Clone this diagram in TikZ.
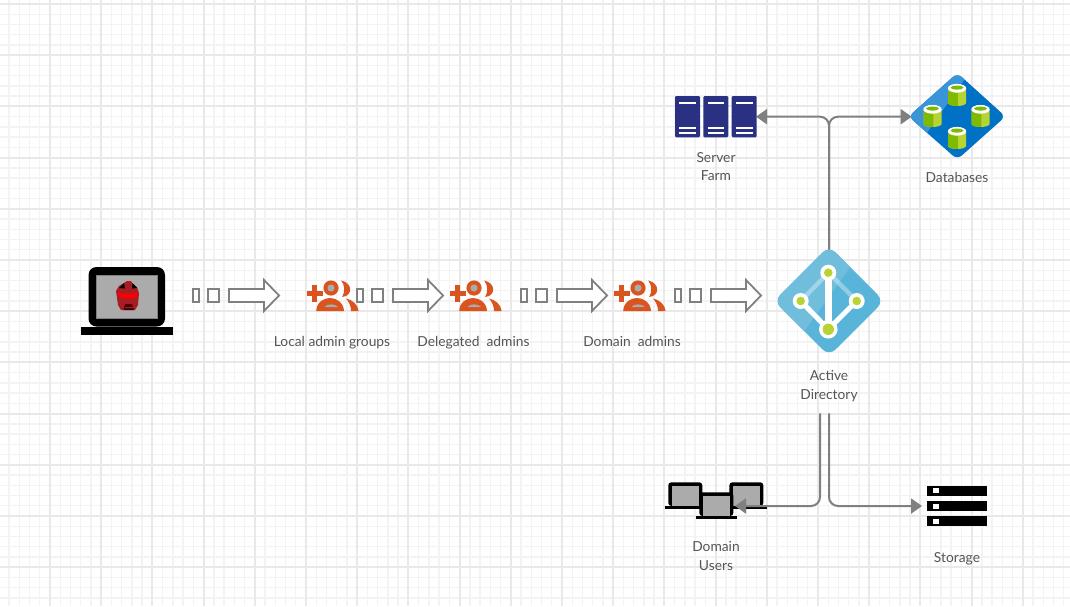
\documentclass[tikz,border=0pt]{standalone}
\usepackage{fontspec}
\setmainfont{Lato}
\usetikzlibrary{arrows.meta,calc}
\definecolor{gmaj}{HTML}{E9E9E9}
\definecolor{gmin}{HTML}{F3F3F3}
\definecolor{ln}{HTML}{808080}
\definecolor{txt}{HTML}{555555}
\definecolor{org}{HTML}{D9541E}
\definecolor{navy}{HTML}{2A3182}
\definecolor{dbd}{HTML}{0072C6}
\definecolor{dbl}{HTML}{3A95D8}
\definecolor{cg}{HTML}{7FB900}
\definecolor{cl}{HTML}{B8D432}
\definecolor{adl}{HTML}{70BDDC}
\definecolor{add}{HTML}{59B4D9}
\definecolor{scr}{HTML}{ABABAB}
\definecolor{rd}{HTML}{A81C24}
\tikzset{x=1pt,y=-1pt,
 lbl/.style={text=txt,font=\fontsize{13.8}{18.8}\selectfont,align=center,inner sep=0pt},
 conn/.style={draw=ln,line width=2pt,rounded corners=9pt,-{Triangle[length=11pt,width=15pt]}},
 hollow/.style={draw=ln,line width=1.8pt,fill=white,line join=miter},
 anchorbox/.style={minimum width=#1,inner sep=0pt,outer sep=0pt},
 flow/.pic={
  \draw[hollow] (0,-6.5) rectangle (6,6.5);
  \draw[hollow] (15,-6.5) rectangle (26,6.5);
  \draw[hollow] (36,-6.5) -- (71,-6.5) -- (71,-15.5) -- (86,0) -- (71,15.5) -- (71,6.5) -- (36,6.5) -- cycle;
 },
 usr/.pic={
  \fill[org] (0.7,-2.5) rectangle (16.7,2.5);
  \fill[org] (6.2,-8.5) rectangle (11.2,8.5);
  \fill[org] (25,-5) circle (7.6);
  \fill[scr] (25,-5) circle (3.6);
  \fill[org] (10.2,18) .. controls (10.5,9) and (18,5) .. (24,5) .. controls (30,5) and (37.5,9) .. (38,18) -- cycle;
  \fill[scr] (18.5,14) .. controls (21,10.5) and (29,10.5) .. (32,14) -- cycle;
  \fill[org] (35.2,-12.5) .. controls (47,-10) and (47,3) .. (36.2,4) .. controls (39,-1) and (39,-8) .. (35.2,-12.5) -- cycle;
  \fill[org] (40,5.5) .. controls (46,6.5) and (52.5,12) .. (52.5,18) -- (45,18) .. controls (45,13) and (43,9) .. (40,5.5) -- cycle;
 },
 lap/.pic={
  \fill[black,rounded corners=3pt] (0,0) rectangle (34,23.6);
  \fill[scr] (3.3,3.3) rectangle (30.7,23.6);
  \fill[black] (-3.3,23.4) rectangle (37.7,26.8);
 },
 cyl/.pic={
  \fill[cl] (-9,0) -- (-9,14.7) arc[start angle=180,end angle=0,x radius=9,y radius=3] -- (9,0) -- cycle;
  \fill[cg] (-9,0) -- (-9,14.7) arc[start angle=180,end angle=85,x radius=9,y radius=3] -- (0.8,0) -- cycle;
  \fill[white] (0,0) ellipse (9.2 and 4.4);
  \fill[cg] (0,-0.7) ellipse (6.5 and 2);
 }
}
\begin{document}
\begin{tikzpicture}
\useasboundingbox (0,0) rectangle (1070,606);
\fill[white] (0,0) rectangle (1070,606);
% grid
\foreach \i in {0,...,105}{
 \pgfmathsetmacro\gx{-1.2+10.24*\i}
 \draw[gmin,line width=1.4pt] (\gx,0) -- (\gx,606);
}
\foreach \i in {0,...,60}{
 \pgfmathsetmacro\gy{4+10.24*\i-10.24}
 \draw[gmin,line width=1.4pt] (0,\gy) -- (1070,\gy);
}
\foreach \i in {0,...,21}{
 \pgfmathsetmacro\gx{-1.2+51.2*\i}
 \draw[gmaj,line width=2pt] (\gx,0) -- (\gx,606);
}
\foreach \i in {0,...,12}{
 \pgfmathsetmacro\gy{4+51.2*\i}
 \draw[gmaj,line width=2pt] (0,\gy) -- (1070,\gy);
}
% named icon anchors
\node[anchorbox=92pt,minimum height=66pt] (laptop) at (127,301) {};
\node[anchorbox=80pt,minimum height=41pt] (farm) at (716,116.7) {};
\node[anchorbox=90.6pt,minimum height=82pt] (db) at (957,116.7) {};
\node[anchorbox=102pt,minimum height=102pt] (ad) at (829,301) {};
\node[anchorbox=38pt,minimum height=42pt] (users) at (716,506) {};
\node[anchorbox=70pt,minimum height=42pt] (stor) at (957,506) {};
% labels
\node[lbl] (l1) at (332,343) {Local admin groups};
\node[lbl] (l2) at (473.5,343) {Delegated\ \ admins};
\node[lbl] (l3) at (632,341.5) {Domain\ \ admins};
\node[lbl] (lf) at (716,166.5) {Server\\Farm};
\node[lbl] (ld) at (957,177) {Databases};
\node[lbl,minimum width=60pt] (lad) at (829,386.5) {Active\\Directory};
\node[lbl] (lu) at (716,556) {Domain\\Users};
\node[lbl] (ls) at (957,559) {Storage};
% connectors
\coordinate (bl) at ($(lad.south)+(-9,11)$);
\coordinate (br) at ($(lad.south)+(0,11)$);
\draw[conn] (ad.north) |- (farm.east);
\draw[conn] (ad.north) |- (db.west);
\draw[conn] (br) |- (stor.west);
% flow arrows
\foreach \p in {193,357,521,675} \pic at (\p,295.5) {flow};
\foreach \p in {306,449,613} \pic at (\p,293) {usr};
% laptop
\fill[black,rounded corners=8pt] (88.5,267) rectangle (165,326.5);
\fill[scr] (96,275.5) rectangle (157.5,318);
\draw[ln,line width=.5pt] (96,275.5) rectangle (157.5,318);
\fill[black] (81,326.5) rectangle (173,335);
% robot head
\fill[rd] (116,291) -- (119,286) -- (124,283) -- (127,281) -- (131,281) -- (133,284) -- (137,287) -- (139,293) -- (138,305) -- (135,310) -- (121,310) -- (118,305) -- cycle;
\fill[black] (119,288) -- (124,283) -- (125,288.5) -- cycle;
\fill[black] (137,288) -- (132.5,283) -- (132,288.5) -- cycle;
\fill[red] (117.5,292) .. controls (124,295) and (131,295) .. (138,292) -- (136.5,297) .. controls (131,299) and (124,299) .. (120,297) -- cycle;
\fill[black!70!red] (125,304) -- (132,304) -- (134,310) -- (123.5,310) -- cycle;
\draw[rd,line width=.7pt] (125,307) -- (132.5,307);
% server farm
\foreach \sx in {675,703.3,731.7}{
 \fill[navy,rounded corners=1.2pt] (\sx,96) rectangle ++(25,41.3);
 \fill[white] (\sx+4.3,102.3) rectangle ++(16.5,2);
 \fill[white] (\sx+4.3,126.7) rectangle ++(16.5,2);
 \fill[white] (\sx+4.3,131.7) rectangle ++(16.5,2);
}
% database
\fill[dbd,rounded corners=6pt] (957.3,73) -- (1005.5,116.5) -- (957.3,159.5) -- (908.5,116.5) -- cycle;
\begin{scope}
\clip[rounded corners=6pt] (957.3,73) -- (1005.5,116.5) -- (957.3,159.5) -- (908.5,116.5) -- cycle;
\fill[dbl] (905,60) -- (978,60) -- (915,150) -- (905,150) -- cycle;
\end{scope}
\pic at (957,88.3) {cyl};
\pic at (932.5,109.3) {cyl};
\pic at (980.5,109.3) {cyl};
\pic at (957,131.3) {cyl};
% active directory
\fill[add,rounded corners=9pt] (829,246) -- (884,301) -- (829,356) -- (774,301) -- cycle;
\begin{scope}
\clip[rounded corners=9pt] (829,246) -- (884,301) -- (829,356) -- (774,301) -- cycle;
\fill[adl] (829,240) -- (853,263) -- (798,340) -- (765,301) -- cycle;
\end{scope}
\draw[white,opacity=.35,line width=4.5pt] (828.5,272.7) -- (800.7,301) (828.5,272.7) -- (856.7,301);
\draw[white,line width=5pt] (800.7,301) -- (828.3,329.3) -- (856.7,301);
\draw[white,line width=6.5pt] (828.3,272.7) -- (828.3,329.3);
\fill[white] (828.3,272.7) circle (8);
\fill[cl] (828.3,272.7) circle (4.3);
\fill[white] (800.7,301) circle (8);
\fill[cl] (800.7,301) circle (4.3);
\fill[white] (856.7,301) circle (8);
\fill[cl] (856.7,301) circle (4.3);
\fill[white] (828.3,329.3) circle (9.3);
\fill[cl] (828.3,329.3) circle (5.7);
% domain users
\pic at (668.3,482.3) {lap};
\pic at (729.3,482.3) {lap};
\pic at (699.3,492.3) {lap};
\draw[conn] (bl) |- (users.east);
% storage
\foreach \yy in {485.7,501,516.3}{
 \fill[black] (927.3,\yy) rectangle (986.7,\yy+10);
 \fill[white] (933.3,\yy+2.7) rectangle (939,\yy+7.7);
}
\end{tikzpicture}
\end{document}
